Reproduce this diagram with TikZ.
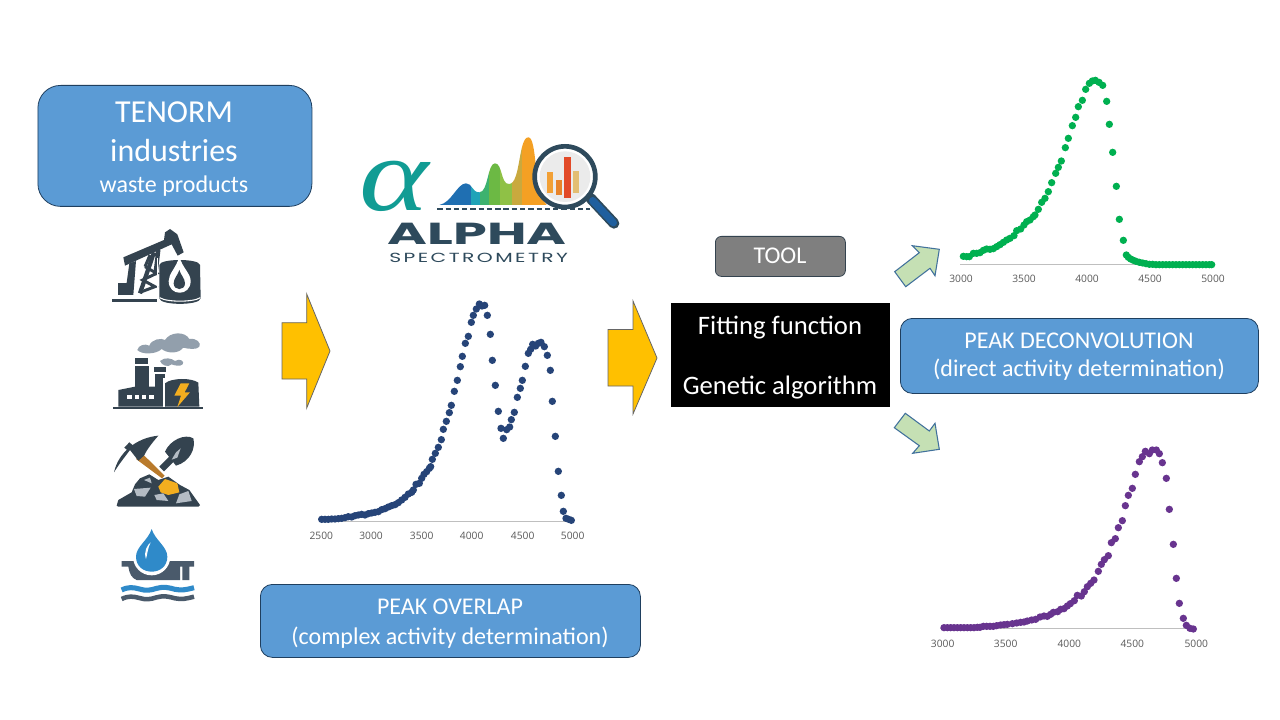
\documentclass[tikz,border=0pt]{standalone}
\usepackage{fontspec}
\usepackage{graphicx}
\setmainfont{Carlito}
\newfontfamily\axisfont{Open Sans}
\newfontfamily\logofont{Poppins}
\newfontfamily\logospaced[LetterSpace=12]{Poppins}
\newfontfamily\alphafont{Liberation Serif}
\definecolor{boxblue}{HTML}{5B9BD5}
\definecolor{boxedge}{HTML}{1F3F5F}
\definecolor{toolgray}{HTML}{7F7F7F}
\definecolor{arrowgold}{HTML}{FFC000}
\definecolor{arrowgreen}{HTML}{C5E0B4}
\definecolor{greenedge}{HTML}{41719C}
\definecolor{dotnavy}{HTML}{264478}
\definecolor{dotgreen}{HTML}{00B050}
\definecolor{dotpurple}{HTML}{68348F}
\definecolor{axisgray}{HTML}{BFBFBF}
\definecolor{ticktext}{HTML}{595959}
\definecolor{icondark}{HTML}{34434F}
\definecolor{iconslate}{HTML}{4A5A6B}
\definecolor{iconcloud}{HTML}{929FAC}
\definecolor{iconrock}{HTML}{B4BCC4}
\definecolor{iconblue}{HTML}{2F8AC9}
\definecolor{iconbrown}{HTML}{B97A2B}
\definecolor{icongold}{HTML}{F3AE1F}
\definecolor{logodark}{HTML}{2E4A5C}
\definecolor{logoteal}{HTML}{119C94}
\definecolor{specA}{HTML}{1F6FB2}
\definecolor{specB}{HTML}{1FA3B8}
\definecolor{specC}{HTML}{3DB26F}
\definecolor{specD}{HTML}{6CB944}
\definecolor{specE}{HTML}{8FC146}
\definecolor{specF}{HTML}{C9A93E}
\definecolor{specG}{HTML}{F4A024}
\definecolor{barA}{HTML}{F2A035}
\definecolor{barB}{HTML}{E8842A}
\definecolor{barC}{HTML}{E24A28}
\definecolor{barD}{HTML}{E3BE72}
\definecolor{lensgray}{HTML}{EBEBEB}
\definecolor{handleblue}{HTML}{1F5F9E}
\tikzset{
  bluebox/.style={draw=boxedge,line width=0.6pt,fill=boxblue,text=white,rounded corners=#1,inner sep=0pt},
  whitetext/.style={text=white,inner sep=0pt,align=center},
  tick/.style={text=ticktext,inner sep=0pt,font=\axisfont\fontsize{7.7}{9}\selectfont},
  goldarrow/.style={draw=gray!80!black,line width=0.6pt,fill=arrowgold},
  greenarrow/.style={draw=greenedge,line width=0.8pt,fill=arrowgreen},
  axisline/.style={draw=axisgray,line width=0.6pt},
  logoword/.style={text=logodark,inner sep=0pt}
}
\newcommand{\fs}[1]{\fontsize{#1}{#1}\selectfont}
\begin{document}
\begin{tikzpicture}[x=0.75pt,y=-0.75pt]
\useasboundingbox (0,0) rectangle (1280,720);
\fill[white] (0,0) rectangle (1280,720);

% boxes
\node[bluebox=17pt,minimum width=205.5pt,minimum height=90.75pt,anchor=north west] (tenorm) at (37.5,85) {};
\node[whitetext] (t1) at (174,112) {\fs{24}TENORM};
\node[whitetext] (t2) at (174,151) {\fs{24}industries};
\node[whitetext] (t3) at (174,186) {\fs{18}waste products};

\node[bluebox=9pt,minimum width=285pt,minimum height=54.75pt,anchor=north west] (overlap) at (260,584) {};
\node[whitetext] (o1) at (450,607) {\fs{18}PEAK OVERLAP};
\node[whitetext] (o2) at (450,638) {\fs{18}(complex activity determination)};

\node[bluebox=9pt,minimum width=268.5pt,minimum height=56.25pt,anchor=north west] (deconv) at (900,318) {};
\node[whitetext] (d1) at (1079,341) {\fs{18}PEAK DECONVOLUTION};
\node[whitetext] (d2) at (1079,370) {\fs{18}(direct activity determination)};

\node[draw=icondark,line width=0.6pt,fill=toolgray,rounded corners=4.5pt,minimum width=97.5pt,minimum height=30pt,anchor=north west,inner sep=0pt] (toolbox) at (715,236) {};
\node[whitetext] (toollabel) at (780,256) {\fs{18}TOOL};

\node[fill=black,minimum width=164.25pt,minimum height=78pt,anchor=north west,inner sep=0pt] (blackbox) at (671,303) {};
\node[whitetext] (f1) at (780,328) {\fs{20}Fitting function};
\node[whitetext] (f2) at (780,388) {\fs{20}Genetic algorithm};

% block arrows
\draw[goldarrow] (282,322.7) -- (306.7,322.7) -- (306.7,294) -- (330,351) -- (306.7,408) -- (306.7,379) -- (282,379) -- cycle;
\draw[goldarrow] (608,329.5) -- (633,329.5) -- (633,301) -- (657,358) -- (633,414) -- (633,386) -- (608,386) -- cycle;
\draw[greenarrow] (939.3,249.3) -- (912.3,245.7) -- (919.3,252.7) -- (894.7,271.7) -- (905.7,286.7) -- (930,268.3) -- (935,275.7) -- cycle;
\draw[greenarrow] (939.3,449.3) -- (935,423.3) -- (929.3,431) -- (905.3,413.3) -- (894.3,427.7) -- (919.3,445.7) -- (912.7,453.3) -- cycle;

% chart 1
\begin{scope}[shift={(300,290)},scale=0.33333]
\draw[axisline] (65,694) -- (800,694);
\foreach \a/\b in {65/688,75/688,85/688,95/687,105/687,115/686,125/685,135/683,145/680,155/681,165/677,175/675,185/673,195/675,205/671,215/669,225/667,235/665,245/659,255/656,265/651,275/647,285/644,295/638,305/630,315/622,325/612,335/607,340/600,348/583,358/580,365/565,372/553,380/545,388/535,392/530,397/508,406/490,415/472,424/449,430/418,439/394,448/368,454/346,463/304,472/271,481/230,487/199,496/160,505/139,514/97,520/76,529/57,538/42,546/48,554/46,562/76,571/133,577/211,586/286,595/364,603/415,610/445,620/419,629/411,634/389,643/367,652/322,661/295,667/271,676/229,685/190,692/178,698/163,707/168,715/160,723/157,733/170,742/196,751/241,757/334,766/439,775/544,784/616,790/664,798/685,806/688,814/691}
  \fill[dotnavy] (\a,\b) circle (11);
\node[tick] (c1a) at (64,738) {2500};
\node[tick] (c1b) at (213,738) {3000};
\node[tick] (c1c) at (365,738) {3500};
\node[tick] (c1d) at (515,738) {4000};
\node[tick] (c1e) at (668,738) {4500};
\node[tick] (c1f) at (818,738) {5000};
\end{scope}

% chart 2
\begin{scope}[shift={(880,70)},scale=0.33333]
\draw[axisline] (240,583) -- (1000,583);
\foreach \a/\b in {250/559,260/560,268/560,280/550,290/550,300/548,310/541,320/537,330/538,340/536,350/530,360/524,370/517,380/510,390/505,402/497,410/482,422/477,432/465,440/455,450/450,460/440,465/435,475/418,485/397,495/385,505/365,515/338,527/310,535/292,544/273,556/233,565/205,577/167,587/142,595/110,607/91,617/58,628/40,637/33,646/31,657/37,668/46,680/94,688/163,698/247,709/349,718/448,730/511,739/555,745/562,752/567,760/571,768/574,778/577,788/579,798/581,808/583,818/583,828/584,838/584,848/584,858/584,868/584,878/584,888/584,898/584,908/584,918/584,928/584,938/584,948/584,958/584,968/584,978/584,988/584,995/584}
  \fill[dotgreen] (\a,\b) circle (11);
\node[tick] (c2a) at (243,627) {3000};
\node[tick] (c2b) at (432,627) {3500};
\node[tick] (c2c) at (621,627) {4000};
\node[tick] (c2d) at (810,627) {4500};
\node[tick] (c2e) at (999,627) {5000};
\end{scope}

% chart 3
\begin{scope}[shift={(890,405)},scale=0.33333]
\draw[axisline] (150,670) -- (905,670);
\foreach \a/\b in {162/668,172/668,182/668,192/668,202/668,212/668,222/668,232/668,242/668,252/668,262/667,270/667,280/664,290/664,300/664,310/664,320/662,332/660,342/659,352/658,367/656,380/654,392/652,402/651,412/648,425/645,437/643,450/636,462/633,472/634,482/628,490/622,503/620,512/613,522/611,532/603,541/596,553/587,562/571,574/573,583/560,592/545,602/535,612/525,625/499,634/478,643/464,655/452,664/413,676/401,685/368,697/347,706/302,715/271,727/250,736/208,748/170,757/155,766/139,778/146,787/135,799/135,808/146,817/173,829/220,838/313,850/418,859/520,868/595,880/640,889/661,900/670,910/672}
  \fill[dotpurple] (\a,\b) circle (11);
\node[tick] (c3a) at (158,715) {3000};
\node[tick] (c3b) at (347,715) {3500};
\node[tick] (c3c) at (538,715) {4000};
\node[tick] (c3d) at (727,715) {4500};
\node[tick] (c3e) at (919,715) {5000};
\end{scope}

% logo
\begin{scope}[shift={(350,130)},scale=0.33333]
\node[inner sep=0pt,text=logoteal] (alphaglyph) at (134,170) {\resizebox{52pt}{37pt}{\alphafont\itshape α}};
\begin{scope}
\clip (268,225) .. controls (305,218) and (322,160) .. (348,160) .. controls (368,160) and (365,187) .. (388,187) .. controls (415,187) and (412,100) .. (435,100) .. controls (458,100) and (452,165) .. (478,162) .. controls (512,160) and (505,22) .. (535,22) .. controls (562,22) and (550,180) .. (590,225) -- cycle;
\fill[specA] (260,20) rectangle (362,230);
\fill[specB] (362,20) rectangle (390,230);
\fill[specC] (390,20) rectangle (418,230);
\fill[specD] (418,20) rectangle (450,230);
\fill[specE] (450,20) rectangle (486,230);
\fill[specF] (486,20) rectangle (515,230);
\fill[specG] (515,20) rectangle (600,230);
\end{scope}
\draw[logodark,line width=0.9pt,dash pattern=on 4pt off 2.2pt] (262,237) -- (720,237);
\draw[logodark,line width=8pt,line cap=round] (722,205) -- (792,280);
\draw[handleblue,line width=5.5pt,line cap=round] (728,212) -- (790,278);
\draw[logodark,line width=3.5pt,fill=white] (645,140) circle (91);
\fill[lensgray] (645,140) circle (76);
\fill[barA] (590,125) rectangle (610,190);
\fill[barB] (617,150) rectangle (635,195);
\fill[barC] (642,80) rectangle (664,205);
\fill[barD] (668,122) rectangle (688,190);
\node[logoword,anchor=center] (alphaword) at (382,313) {\resizebox{134pt}{16pt}{\logofont\bfseries ALPHA}};
\node[logoword,anchor=center] (spectroword) at (386,383) {\resizebox{134pt}{7pt}{\logospaced SPECTROMETRY}};
\end{scope}

% pump jack icon
\begin{scope}[shift={(90,215)},scale=0.33333]
\fill[icondark] (100,127) -- (222,75) -- (225,52) -- (240,42) -- (262,58) -- (281,112) -- (263,122) -- (245,88) -- (105,152) -- cycle;
\fill[icondark] (118,145) -- (138,138) -- (130,240) -- (105,240) -- cycle;
\draw[icondark,line width=3.2pt] (192,112) -- (150,235) (205,105) -- (196,180);
\draw[icondark,line width=2.2pt] (165,155) -- (200,175) -- (158,195) -- (195,215) -- (150,232) (180,120) -- (165,155);
\fill[icondark] (85,205) rectangle (130,240);
\fill[icondark] (65,252) rectangle (200,262);
\fill[white] (200,130) rectangle (205,270);
\fill[icondark] (208,150) .. controls (210,130) and (328,130) .. (330,150) -- (332,250) .. controls (330,272) and (210,272) .. (208,250) -- cycle;
\draw[white,line width=0.8pt] (209,248) .. controls (230,262) and (310,262) .. (331,248);
\fill[white] (268,125) .. controls (278,160) and (302,175) .. (302,198) .. controls (302,245) and (236,245) .. (236,198) .. controls (236,175) and (258,160) .. (268,125) -- cycle;
\fill[icondark] (268,165) .. controls (272,180) and (285,190) .. (285,205) .. controls (285,228) and (251,228) .. (251,205) .. controls (251,190) and (264,180) .. (268,165) -- cycle;
\end{scope}

% factory icon
\begin{scope}[shift={(90,215)},scale=0.33333]
\fill[iconcloud] (142,405) .. controls (145,390) and (165,385) .. (178,392) .. controls (185,372) and (215,368) .. (225,375) .. controls (240,350) and (285,348) .. (298,372) .. controls (320,368) and (335,385) .. (328,395) .. controls (322,405) and (295,402) .. (280,398) .. controls (265,418) and (230,415) .. (215,402) .. controls (200,418) and (155,420) .. (142,405) -- cycle;
\fill[iconcloud] (210,438) .. controls (225,425) and (245,430) .. (255,438) .. controls (270,428) and (285,440) .. (278,448) .. controls (270,455) and (255,452) .. (245,448) .. controls (235,458) and (215,452) .. (210,438) -- cycle;
\fill[icondark] (135,430) rectangle (175,448);
\fill[icondark] (135,454) rectangle (177,525);
\fill[icondark] (193,455) rectangle (228,470);
\fill[icondark] (195,476) rectangle (226,525);
\fill[icondark] (85,575) -- (85,525) -- (135,515) -- (226,515) -- (226,575) -- cycle;
\foreach \wx in {112,134,156,178} \fill[white] (\wx,541) rectangle ++(13,10);
\fill[white] (218,490) rectangle (226,578);
\fill[icondark] (225,505) .. controls (245,488) and (305,488) .. (325,503) -- (328,575) -- (225,575) -- cycle;
\fill[icongold] (272,505) -- (298,505) -- (284,532) -- (300,532) -- (262,576) -- (273,542) -- (253,542) -- cycle;
\fill[icondark] (70,576) rectangle (340,582);
\end{scope}

% mining icon
\begin{scope}[shift={(90,415)},scale=0.33333]
\fill[iconbrown] (138,132) -- (157,116) -- (224,182) -- (216,190) -- cycle;
\fill[icondark] (72,172) .. controls (85,112) and (140,68) .. (205,62) .. controls (185,85) and (170,105) .. (162,122) -- (145,137) -- (120,105) .. controls (105,125) and (85,150) .. (72,172) -- cycle;
\fill[icondark] (103,98) -- (118,82) -- (130,92) -- (115,108) -- cycle;
\draw[icondark,line width=5pt] (215,162) -- (245,132);
\fill[icondark] (225,110) .. controls (240,75) and (285,55) .. (310,70) .. controls (318,100) and (300,140) .. (258,152) -- cycle;
\fill[iconrock] (245,134) -- (258,112) -- (272,100) -- (262,128) -- cycle;
\fill[icondark] (80,272) -- (85,255) -- (125,232) -- (135,208) -- (150,190) -- (178,178) -- (205,195) -- (235,185) -- (270,210) -- (298,225) -- (330,270) -- (325,275) -- (85,275) -- cycle;
\fill[icongold] (205,215) -- (225,192) -- (262,205) -- (268,232) -- (235,240) -- (212,232) -- cycle;
\fill[iconrock] (132,222) -- (182,218) -- (165,245) -- (140,243) -- cycle;
\fill[iconrock] (162,195) -- (180,188) -- (185,205) -- cycle;
\fill[iconrock] (193,240) -- (220,235) -- (235,258) -- (200,255) -- cycle;
\fill[iconrock] (268,238) -- (295,228) -- (305,258) -- (258,265) -- cycle;
\end{scope}

% water icon
\begin{scope}[shift={(90,415)},scale=0.33333]
\fill[iconslate] (95,438) -- (312,438) -- (312,455) -- (298,455) -- (298,495) -- (277,495) -- (277,455) -- (270,455) -- (270,495) -- (140,495) .. controls (125,490) and (118,475) .. (115,455) -- (95,455) -- cycle;
\fill[white] (185,425) circle (56);
\fill[iconblue] (185,342) .. controls (195,375) and (232,395) .. (232,425) .. controls (232,485) and (138,485) .. (138,425) .. controls (138,395) and (175,375) .. (185,342) -- cycle;
\fill[white] (168,432) .. controls (160,410) and (172,390) .. (182,382) .. controls (172,402) and (172,420) .. (168,432) -- cycle;
\draw[iconblue,line width=3.8pt] (95,525) .. controls (115,515) and (130,517) .. (148,522) .. controls (168,528) and (182,526) .. (200,520) .. controls (220,514) and (238,518) .. (255,523) .. controls (275,527) and (290,524) .. (312,518);
\draw[iconslate,line width=3.4pt] (95,552) .. controls (115,542) and (130,544) .. (148,549) .. controls (168,555) and (182,553) .. (200,547) .. controls (220,541) and (238,545) .. (255,550) .. controls (275,554) and (290,551) .. (312,545);
\end{scope}
\end{tikzpicture}
\end{document}
